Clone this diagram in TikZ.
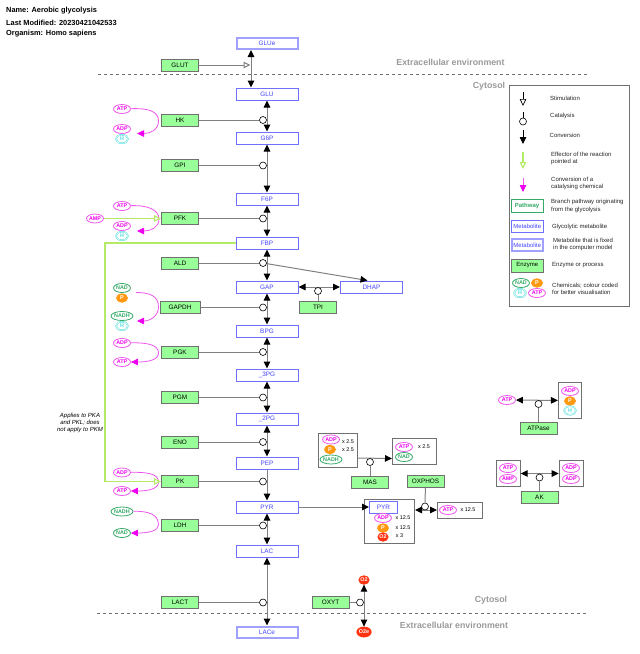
\documentclass[tikz,border=0pt]{standalone}
\usepackage{fontspec}
\setmainfont{Liberation Sans}
\usepackage{tikz}
\usetikzlibrary{shapes,arrows.meta,calc}
\definecolor{linegray}{HTML}{808080}
\definecolor{boxgray}{HTML}{707070}
\definecolor{metblue}{HTML}{7070FF}
\definecolor{metlight}{HTML}{A0A0FF}
\definecolor{mettext}{HTML}{4444FF}
\definecolor{enzgreen}{HTML}{99FF99}
\definecolor{effgreen}{HTML}{B4EA66}
\definecolor{chemmag}{HTML}{EE55EE}
\definecolor{tipmag}{HTML}{EE00EE}
\definecolor{chemgrn}{HTML}{33AA66}
\definecolor{chemcyan}{HTML}{55DDDD}
\definecolor{chemorg}{HTML}{FF9911}
\definecolor{chemred}{HTML}{FF3311}
\definecolor{labelgray}{HTML}{999999}
\tikzset{tipb/.tip={Triangle[length=7pt,width=6.5pt,color=black]}}
\tikzset{tipm/.tip={Triangle[length=7pt,width=6.5pt,color=tipmag]}}
\tikzset{tipo/.tip={Triangle[open,length=7pt,width=6.5pt,fill=white]}}
\tikzstyle{metab} = [draw=metblue, fill=white, line width=1pt, text=mettext, minimum width=62pt, minimum height=12pt, inner sep=0pt, font=\fontsize{6.4}{7}\selectfont]
\tikzstyle{fixedmetab} = [metab, draw=metlight, line width=2pt, minimum width=61pt, minimum height=11pt]
\tikzstyle{enzyme} = [draw=boxgray, fill=enzgreen, line width=1pt, minimum width=37pt, minimum height=12pt, inner sep=0pt, font=\fontsize{6.4}{7}\selectfont]
\tikzstyle{cat} = [draw=black, fill=white, circle, line width=.6pt, minimum size=7pt, inner sep=0pt]
\tikzstyle{chem} = [draw, fill=white, ellipse, line width=.8pt, minimum width=17pt, minimum height=9pt, inner sep=0pt, font=\fontsize{5.4}{6}\selectfont\bfseries]
\tikzstyle{chemM} = [chem, draw=chemmag, text=tipmag]
\tikzstyle{chemG} = [chem, draw=chemgrn, text=chemgrn]
\tikzstyle{chemH} = [chem, draw=chemcyan, text=chemcyan, double=white, double distance=.5pt, minimum width=12pt, minimum height=8.5pt, line width=.5pt]
\tikzstyle{chemP} = [chem, draw=chemorg, fill=chemorg, text=white, minimum width=11pt, minimum height=8.5pt]
\tikzstyle{chemO} = [chem, draw=chemred, fill=chemred, text=white, minimum width=10pt, minimum height=8.5pt]
\tikzstyle{group} = [draw=boxgray, fill=white, line width=1pt, inner sep=0pt]
\tikzstyle{times} = [font=\fontsize{5.4}{6}\selectfont]
\tikzstyle{region} = [text=labelgray, font=\fontsize{8.8}{10}\selectfont\bfseries]
\tikzstyle{legendtxt} = [anchor=west, align=left, inner sep=0pt, text=black!85, font=\fontsize{6}{7.2}\selectfont]
\tikzstyle{header} = [anchor=west, inner sep=0pt, font=\fontsize{7.4}{8}\selectfont\bfseries]
\tikzstyle{line} = [draw=linegray, line width=1pt]
\tikzstyle{conv} = [line, -tipb]
\tikzstyle{rev} = [line, tipb-tipb]
\tikzstyle{side} = [draw=chemmag, line width=.8pt, -tipm]
\tikzstyle{effect} = [draw=effgreen, line width=1.1pt, -tipo]
\tikzstyle{border} = [draw=boxgray, dashed, line width=.8pt]
\begin{document}
\begin{tikzpicture}[x=1pt, y=-1pt, node distance=44pt]
        \useasboundingbox (0,0) rectangle (640,654);
        \node[header] (name) at (6,11) {Name: Aerobic glycolysis};
        \node[header] (modified) at (6,22.5) {Last Modified: 20230421042533};
        \node[header] (organism) at (6,34) {Organism: Homo sapiens};
        % compartments
        \coordinate (topL) at (98,74.5);
        \coordinate (topR) at (588,74.5);
        \coordinate (botL) at (97,613.5);
        \coordinate (botR) at (588,613.5);
        \path[border] (topL) -- (topR);
        \path[border] (botL) -- (botR);
        \node[region] (ext1) at (450.5,62) {Extracellular environment};
        \node[region] (cyt1) at (489,86) {Cytosol};
        \node[region] (cyt2) at (491,600) {Cytosol};
        \node[region] (ext2) at (454,625) {Extracellular environment};
        % main chain
        \node[fixedmetab] (GLUe) at (267,43.5) {GLUe};
        \node[metab] (GLU) at (267,94) {GLU};
        \node[metab, below of=GLU] (G6P) {G6P};
        \node[metab] (F6P) at (267,199) {F6P};
        \node[metab, below of=F6P] (FBP) {FBP};
        \node[metab, below of=FBP] (GAP) {GAP};
        \node[metab, below of=GAP] (BPG) {BPG};
        \node[metab, below of=BPG] (PG3) {\_3PG};
        \node[metab, below of=PG3] (PG2) {\_2PG};
        \node[metab, below of=PG2] (PEP) {PEP};
        \node[metab, below of=PEP] (PYR) {PYR};
        \node[metab, below of=PYR] (LAC) {LAC};
        \node[fixedmetab] (LACe) at (267,632) {LACe};
        \node[metab] (DHAP) at (371.5,287) {DHAP};
        \path[rev] ([xshift=-16pt]GLUe.south) -- ([xshift=-16pt]GLU.north);
        \path[rev] (GLU) -- (G6P);
        \path[rev] (G6P) -- (F6P);
        \path[rev] (F6P) -- (FBP);
        \path[rev] (FBP) -- (GAP);
        \path[rev] (GAP) -- (BPG);
        \path[rev] (BPG) -- (PG3);
        \path[rev] (PG3) -- (PG2);
        \path[rev] (PG2) -- (PEP);
        \path[conv] (PEP) -- (PYR);
        \path[rev] (PYR) -- (LAC);
        \path[rev] (LAC) -- (LACe);
        \path[rev] (GAP) -- (DHAP);
        \coordinate (aldPt) at (263,263);
        \path[conv] (aldPt) -- ([xshift=-4pt]DHAP.north);
        % enzymes
        \node[enzyme] (GLUT) at (180,65) {GLUT};
        \node[enzyme] (HK) at (180,120) {HK};
        \node[enzyme] (GPI) at (180,165.5) {GPI};
        \node[enzyme] (PFK) at (180,218.5) {PFK};
        \node[enzyme] (ALD) at (180,263) {ALD};
        \node[enzyme, minimum width=40pt] (GAPDH) at (180,307.5) {GAPDH};
        \node[enzyme] (PGK) at (180,352) {PGK};
        \node[enzyme] (PGM) at (180,397.5) {PGM};
        \node[enzyme] (ENO) at (180,442) {ENO};
        \node[enzyme] (PK) at (180,481.5) {PK};
        \node[enzyme] (LDH) at (180,525.5) {LDH};
        \node[enzyme] (LACT) at (180,602.5) {LACT};
        \node[enzyme] (TPI) at (318,307.5) {TPI};
        \node[cat] (catHK) at (263,120) {};
        \node[cat] (catGPI) at (263,165.5) {};
        \node[cat] (catPFK) at (263,218.5) {};
        \node[cat] (catALD) at (aldPt) {};
        \node[cat] (catGAPDH) at (263,307.5) {};
        \node[cat] (catPGK) at (263,352) {};
        \node[cat] (catPGM) at (263,397.5) {};
        \node[cat] (catENO) at (263,442) {};
        \node[cat] (catPK) at (263,481.5) {};
        \node[cat] (catLDH) at (263,525.5) {};
        \node[cat] (catLACT) at (263,602.5) {};
        \node[cat] (catTPI) at (318,291) {};
        \coordinate (glutEnd) at (250.5,65);
        \path[line, -tipo] (GLUT) -- (glutEnd);
        \path[line] (HK) -- (catHK);
        \path[line] (GPI) -- (catGPI);
        \path[line] (PFK) -- (catPFK);
        \path[line] (ALD) -- (catALD);
        \path[line] (GAPDH) -- (catGAPDH);
        \path[line] (PGK) -- (catPGK);
        \path[line] (PGM) -- (catPGM);
        \path[line] (ENO) -- (catENO);
        \path[line] (PK) -- (catPK);
        \path[line] (LDH) -- (catLDH);
        \path[line] (LACT) -- (catLACT);
        \path[line] (TPI) -- (catTPI);
        % side reactions
        \node[chemM] (atpHK) at (122,109) {ATP};
        \node[chemM] (adpHK) at (122,129) {ADP};
        \node[chemH] (hHK) at (122,139) {H};
        \coordinate (hkEnd) at (137,133.5);
        \path[side] (atpHK) .. controls (150,108) and (158.5,112) .. (158.5,121) .. controls (158.5,130) and (150,133.5) .. (hkEnd);
        \node[chemM] (atpPFK) at (122,206) {ATP};
        \node[chemM] (ampPFK) at (95,218.5) {AMP};
        \node[chemM] (adpPFK) at (122,226) {ADP};
        \node[chemH] (hPFK) at (122,236) {H};
        \coordinate (pfkEnd) at (137,231);
        \path[side] (atpPFK) .. controls (148,205) and (159,210) .. (159,219) .. controls (159,228) and (150,231) .. (pfkEnd);
        \path[effect] (ampPFK) -- (PFK);
        \node[chemG] (nadGAP) at (122,288) {NAD};
        \node[chemP] (pGAP) at (122,298) {P};
        \node[chemG] (nadhGAP) at (122,316) {NADH};
        \node[chemH] (hGAP) at (122,326) {H};
        \coordinate (gapStart) at (136,292.5);
        \coordinate (gapEnd) at (137,321);
        \path[side] (gapStart) .. controls (150,292.5) and (158.5,296) .. (158.5,307) .. controls (158.5,316) and (150,321) .. (gapEnd);
        \node[chemM] (adpPGK) at (122,343) {ADP};
        \node[chemM] (atpPGK) at (122,362) {ATP};
        \path[side] (adpPGK) .. controls (148,342.5) and (158.5,345) .. (158.5,353) .. controls (158.5,360) and (148,362) .. (atpPGK);
        \node[chemM] (adpPK) at (122,472.5) {ADP};
        \node[chemM] (atpPK) at (122,491) {ATP};
        \path[side] (adpPK) .. controls (148,472) and (158.5,474) .. (158.5,482) .. controls (158.5,489) and (148,491) .. (atpPK);
        \node[chemG] (nadhLDH) at (122,511.5) {NADH};
        \node[chemG] (nadLDH) at (122,533) {NAD};
        \path[side] (nadhLDH) .. controls (148,511) and (158.5,514) .. (158.5,525) .. controls (158.5,531) and (148,533) .. (nadLDH);
        % FBP feed forward
        \path[effect] (FBP) -| (105,481.5) -- (PK);
        \node[align=center, inner sep=0pt, font=\fontsize{6}{7.2}\selectfont\itshape] (pkNote) at (80,423) {Applies to PKA\\and PKL; does\\not apply to PKM};
        % MAS
        \node[group, minimum width=39pt, minimum height=34pt] (masIn) at (337.5,450) {};
        \node[chemM] (adpMas) at (331,439.5) {ADP};
        \node[chemP] (pMas) at (330,449.5) {P};
        \node[chemG] (nadhMas) at (331,459.5) {NADH};
        \node[times] (x1) at (348,441.5) {x 2.5};
        \node[times] (x2) at (348,450) {x 2.5};
        \node[group, minimum width=44pt, minimum height=26.5pt] (masOut) at (414.5,451.5) {};
        \node[chemM] (atpMas) at (404,447) {ATP};
        \node[chemG] (nadMas) at (404,457) {NAD};
        \node[times] (x3) at (424,447) {x 2.5};
        \path[conv] ([yshift=-8pt]masIn.east) -- ([yshift=-7pt]masOut.west);
        \node[enzyme] (MAS) at (370,482) {MAS};
        \node[cat] (catMAS) at (370,462) {};
        \path[line] (MAS) -- (catMAS);
        % OXPHOS
        \node[group, minimum width=50pt, minimum height=44pt] (oxIn) at (389.5,521) {};
        \node[metab, minimum width=28pt] (pyrOx) at (383.5,507) {PYR};
        \node[chemM] (adpOx) at (383,518) {ADP};
        \node[chemP] (pOx) at (383,528) {P};
        \node[chemO] (o2Ox) at (383,537) {O2};
        \node[times] (x4) at (403,518) {x 12.5};
        \node[times] (x5) at (403,527.5) {x 12.5};
        \node[times] (x6) at (399.5,536) {x 3};
        \node[group, minimum width=44.5pt, minimum height=16pt] (oxOut) at (459.8,510) {};
        \node[chemM] (atpOx) at (448,510) {ATP};
        \node[times] (x7) at (468,510) {x 12.5};
        \path[conv] (PYR) -- (pyrOx);
        \path[rev] (oxIn.east |- oxOut) -- (oxOut);
        \node[enzyme] (OXPHOS) at (425.5,481.5) {OXPHOS};
        \node[cat] (catOX) at (425,506.5) {};
        \path[line] (OXPHOS) -- (catOX);
        % ATPase
        \node[chemM] (atpL) at (507,400) {ATP};
        \node[group, minimum width=23.5pt, minimum height=35.5pt] (atpR) at (570.2,400.5) {};
        \node[chemM] (adpR) at (570,391) {ADP};
        \node[chemP] (pR) at (570,401) {P};
        \node[chemH] (hR) at (570,410.5) {H};
        \path[rev] (atpL) -- (atpR);
        \node[enzyme] (ATPase) at (538.5,428) {ATPase};
        \node[cat] (catATP) at (538.5,404) {};
        \path[line] (ATPase) -- (catATP);
        % AK
        \node[group, minimum width=24pt, minimum height=25.5pt] (akL) at (508.2,473.5) {};
        \node[chemM] (atpAk) at (508,468) {ATP};
        \node[chemM] (ampAk) at (508,479) {AMP};
        \node[group, minimum width=24pt, minimum height=25.5pt] (akR) at (571.2,473.5) {};
        \node[chemM] (adpAk1) at (571,468) {ADP};
        \node[chemM] (adpAk2) at (571,479) {ADP};
        \path[rev] (akL) -- (akR);
        \node[enzyme] (AK) at (539.5,497) {AK};
        \node[cat] (catAK) at (539.5,477.5) {};
        \path[line] (AK) -- (catAK);
        % oxygen
        \node[chemO] (O2) at (364,580) {O2};
        \node[chemO, minimum width=14pt, minimum height=10pt] (O2e) at (364,632) {O2e};
        \path[rev] (O2) -- (O2e);
        \node[enzyme] (OXYT) at (330.5,602.5) {OXYT};
        \node[cat] (catOXY) at (360,602.5) {};
        \path[line] (OXYT) -- (catOXY);
        % legend
        \node[draw=boxgray, fill=white, line width=1pt, minimum width=120.5pt, minimum height=221.5pt, inner sep=0pt] (legend) at (569.5,196) {};
        \coordinate (stimA) at (523,92);
        \coordinate (stimB) at (523,106);
        \path[draw=black, line width=.7pt, -tipo] (stimA) -- (stimB);
        \node[legendtxt] (lgStim) at (550,98) {Stimulation};
        \coordinate (catA) at (523,112);
        \node[cat] (lgCat) at (523,121.5) {};
        \path[draw=black, line width=.7pt] (catA) -- (lgCat);
        \node[legendtxt] (lgCatT) at (550,116) {Catalysis};
        \coordinate (convA) at (523,130);
        \coordinate (convB) at (523,144);
        \path[draw=black, line width=.8pt, -tipb] (convA) -- (convB);
        \node[legendtxt] (lgConv) at (549.5,135.5) {Conversion};
        \coordinate (effA) at (523,152);
        \coordinate (effB) at (523,169);
        \path[effect] (effA) -- (effB);
        \node[legendtxt] (lgEff) at (551,158.5) {Effector of the reaction\\pointed at};
        \coordinate (magA) at (523,178);
        \coordinate (magB) at (523,192);
        \path[side] (magA) -- (magB);
        \node[legendtxt] (lgMag) at (551,183.5) {Conversion of a\\catalysing chemical};
        \node[draw=chemgrn, fill=white, line width=1pt, text=chemgrn, minimum width=32pt, minimum height=12.5pt, inner sep=0pt, font=\fontsize{6}{7}\selectfont\bfseries] (lgPath) at (527,206) {Pathway};
        \node[legendtxt] (lgPathT) at (551,206) {Branch pathway originating\\from the glycolysis};
        \node[metab, minimum width=32pt, minimum height=12.5pt, font=\fontsize{6}{7}\selectfont] (lgMet) at (527.3,226.5) {Metabolite};
        \node[legendtxt] (lgMetT) at (552,226.5) {Glycolytic metabolite};
        \node[fixedmetab, minimum width=31pt, minimum height=12pt, font=\fontsize{6}{7}\selectfont] (lgFix) at (527.3,245) {Metabolite};
        \node[legendtxt] (lgFixT) at (553,244.5) {Metabolite that is fixed\\in the computer model};
        \node[enzyme, minimum width=32pt, minimum height=13pt, font=\fontsize{6}{7}\selectfont] (lgEnz) at (527.3,265.5) {Enzyme};
        \node[legendtxt] (lgEnzT) at (552,265) {Enzyme or process};
        \node[chemG] (lgNad) at (521,283) {NAD};
        \node[chemP] (lgP) at (537,283) {P};
        \node[chemH] (lgH) at (520,293) {H};
        \node[chemM] (lgAtp) at (537,293) {ATP};
        \node[legendtxt] (lgChem) at (552,288.5) {Chemicals; colour coded\\for better visualisation};
\end{tikzpicture}
\end{document}
